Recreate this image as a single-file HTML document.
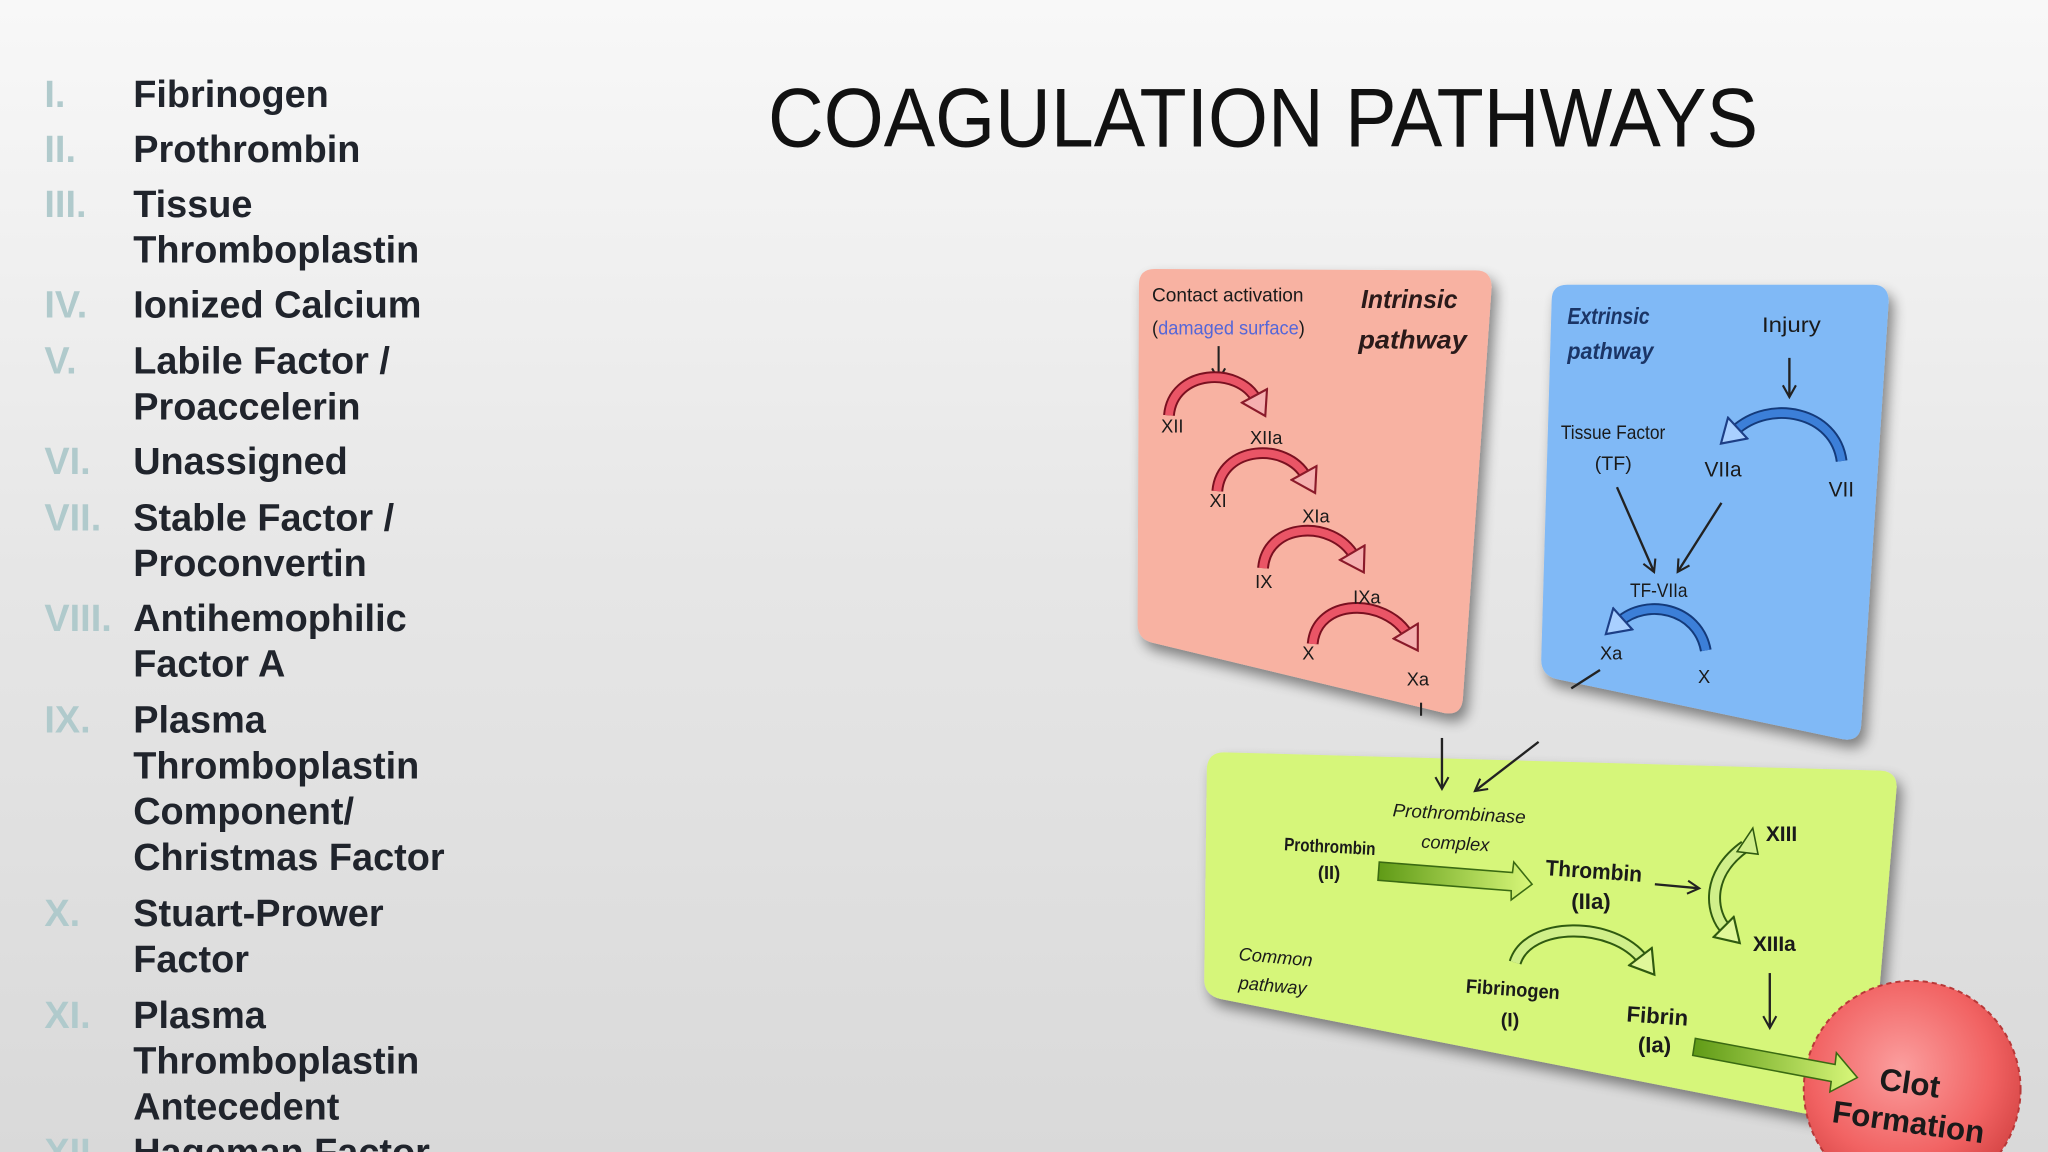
<!DOCTYPE html>
<html><head><meta charset="utf-8"><style>
html,body{margin:0;padding:0;width:2048px;height:1152px;overflow:hidden;background:#e8e8e8}
svg{display:block}
</style></head><body>
<svg width="2048" height="1152" viewBox="0 0 1568 882" xmlns="http://www.w3.org/2000/svg">
<defs>
<linearGradient id="bg" x1="0" y1="0" x2="0" y2="1">
<stop offset="0" stop-color="#f8f8f8"/><stop offset="0.5" stop-color="#e6e6e6"/><stop offset="1" stop-color="#d9d9d9"/></linearGradient>
<radialGradient id="clot" cx="0.45" cy="0.4" r="0.6">
<stop offset="0" stop-color="#fb9e9e"/><stop offset="0.7" stop-color="#f16262"/><stop offset="1" stop-color="#d84848"/></radialGradient>
<linearGradient id="garr" x1="0" y1="0" x2="1" y2="0">
<stop offset="0" stop-color="#5f9a16"/><stop offset="1" stop-color="#d8f77a"/></linearGradient>
<marker id="mr" markerUnits="userSpaceOnUse" markerWidth="24" markerHeight="24" refX="3" refY="0" viewBox="-2 -11 20 22" orient="auto"><path d="M0,-10 L16,0 L0,10 z" fill="#f5b0b0" stroke="#8a1a2a" stroke-width="1.5"/></marker>
<marker id="mb" markerUnits="userSpaceOnUse" markerWidth="24" markerHeight="24" refX="3" refY="0" viewBox="-2 -11 20 22" orient="auto"><path d="M0,-10 L16,0 L0,10 z" fill="#a9d0ff" stroke="#1d3f86" stroke-width="1.5"/></marker>
<marker id="mg" markerUnits="userSpaceOnUse" markerWidth="24" markerHeight="24" refX="3" refY="0" viewBox="-2 -11 20 22" orient="auto"><path d="M0,-10 L16,0 L0,10 z" fill="#e0f79a" stroke="#2f5a10" stroke-width="1.5"/></marker>
<marker id="ma" markerUnits="userSpaceOnUse" markerWidth="12" markerHeight="12" refX="8" refY="0" viewBox="0 -6 10 12" orient="auto"><path d="M0,-5 L9,0 L0,5" fill="none" stroke="#222" stroke-width="1.6"/></marker>
<filter id="sh" x="-10%" y="-10%" width="130%" height="130%"><feGaussianBlur in="SourceAlpha" stdDeviation="5"/><feOffset dx="4" dy="6"/><feComponentTransfer><feFuncA type="linear" slope="0.45"/></feComponentTransfer><feMerge><feMergeNode/><feMergeNode in="SourceGraphic"/></feMerge></filter>
</defs>
<rect width="1568" height="882" fill="url(#bg)"/>

<!-- left list -->
<g font-family="Liberation Sans, sans-serif" font-weight="bold" font-size="29">
<g fill="#b0cacc">
<text x="34" y="82">I.</text><text x="34" y="124">II.</text><text x="34" y="166">III.</text>
<text x="34" y="243">IV.</text><text x="34" y="286">V.</text><text x="34" y="363">VI.</text>
<text x="34" y="406">VII.</text><text x="34" y="483">VIII.</text><text x="34" y="561">IX.</text>
<text x="34" y="709">X.</text><text x="34" y="787">XI.</text><text x="34" y="892">XII.</text>
</g>
<g fill="#20242c">
<text x="102" y="82">Fibrinogen</text>
<text x="102" y="124">Prothrombin</text>
<text x="102" y="166">Tissue</text>
<text x="102" y="201">Thromboplastin</text>
<text x="102" y="243">Ionized Calcium</text>
<text x="102" y="286">Labile Factor /</text>
<text x="102" y="321">Proaccelerin</text>
<text x="102" y="363">Unassigned</text>
<text x="102" y="406">Stable Factor /</text>
<text x="102" y="441">Proconvertin</text>
<text x="102" y="483">Antihemophilic</text>
<text x="102" y="518">Factor A</text>
<text x="102" y="561">Plasma</text>
<text x="102" y="596">Thromboplastin</text>
<text x="102" y="631">Component/</text>
<text x="102" y="666">Christmas Factor</text>
<text x="102" y="709">Stuart-Prower</text>
<text x="102" y="744">Factor</text>
<text x="102" y="787">Plasma</text>
<text x="102" y="822">Thromboplastin</text>
<text x="102" y="857">Antecedent</text>
<text x="102" y="892">Hageman Factor</text>
</g></g>

<!-- title -->
<text x="588" y="112" font-family="Liberation Sans, sans-serif" font-size="64" fill="#111" textLength="758" lengthAdjust="spacingAndGlyphs">COAGULATION PATHWAYS</text>

<!-- boxes -->
<path d="M884,206 L1130,207 Q1142,207 1142,220 L1120,535 Q1119,548 1106,546 L882,492 Q871,489 871,478 L872,218 Q872,206 884,206 Z" fill="#f8b2a2" filter="url(#sh)"/>
<path d="M1200,218 L1434,218 Q1446,218 1446,231 L1425,555 Q1424,568 1411,566 L1192,520 Q1180,517 1180,505 L1188,230 Q1188,218 1200,218 Z" fill="#80b9f6" filter="url(#sh)"/>
<path d="M937,576 L1440,590 Q1453,591 1452,604 L1430,862 L935,765 Q922,762 922,750 L924,588 Q925,576 937,576 Z" fill="#d6f67a" filter="url(#sh)"/>

<g font-family="Liberation Sans, sans-serif" fill="#1a1a1a">
<!-- pink content -->
<text x="882" y="231" font-size="15" textLength="116" lengthAdjust="spacingAndGlyphs">Contact activation</text>
<text x="882" y="256" font-size="15" textLength="117" lengthAdjust="spacingAndGlyphs">(<tspan fill="#5566d8">damaged surface</tspan>)</text>
<text x="1042" y="236" font-size="20" font-weight="bold" font-style="italic" fill="#2a1a1a" textLength="74" lengthAdjust="spacingAndGlyphs">Intrinsic</text>
<text x="1040" y="267" font-size="20" font-weight="bold" font-style="italic" fill="#2a1a1a" textLength="83" lengthAdjust="spacingAndGlyphs">pathway</text>
<line x1="933" y1="265" x2="933" y2="290" stroke="#222" stroke-width="1.6" marker-end="url(#ma)"/>
<g fill="none">
<path d="M895,318 C898,283 948,280 962,306" stroke="#7a1020" stroke-width="9"/>
<path d="M895,318 C898,283 948,280 962,306" stroke="#ea5566" stroke-width="6" marker-end="url(#mr)"/>
<path d="M932,376 C935,341 985,338 1000,365" stroke="#7a1020" stroke-width="9"/>
<path d="M932,376 C935,341 985,338 1000,365" stroke="#ea5566" stroke-width="6" marker-end="url(#mr)"/>
<path d="M967,435 C970,400 1020,397 1037,426" stroke="#7a1020" stroke-width="9"/>
<path d="M967,435 C970,400 1020,397 1037,426" stroke="#ea5566" stroke-width="6" marker-end="url(#mr)"/>
<path d="M1005,493 C1008,458 1060,457 1078,486" stroke="#7a1020" stroke-width="9"/>
<path d="M1005,493 C1008,458 1060,457 1078,486" stroke="#ea5566" stroke-width="6" marker-end="url(#mr)"/>
</g>
<g font-size="14">
<text x="889" y="331">XII</text><text x="957" y="340">XIIa</text>
<text x="926" y="388">XI</text><text x="997" y="400">XIa</text>
<text x="961" y="450">IX</text><text x="1036" y="462">IXa</text>
<text x="997" y="505">X</text><text x="1077" y="525">Xa</text>
</g>
<line x1="1088" y1="538" x2="1088" y2="548" stroke="#222" stroke-width="1.6"/>

<!-- blue content -->
<text x="1200" y="248" font-size="18" font-weight="bold" font-style="italic" fill="#1b3566" textLength="63" lengthAdjust="spacingAndGlyphs">Extrinsic</text>
<text x="1200" y="275" font-size="18" font-weight="bold" font-style="italic" fill="#1b3566" textLength="66" lengthAdjust="spacingAndGlyphs">pathway</text>
<text x="1349" y="254" font-size="16" textLength="45" lengthAdjust="spacingAndGlyphs">Injury</text>
<line x1="1370" y1="274" x2="1370" y2="303" stroke="#222" stroke-width="1.8" marker-end="url(#ma)"/>
<path d="M1410,353 C1405,315 1355,305 1328,330" fill="none" stroke="#143a7a" stroke-width="9"/>
<path d="M1410,353 C1405,315 1355,305 1328,330" fill="none" stroke="#3c7fd8" stroke-width="6" marker-end="url(#mb)"/>
<text x="1195" y="336" font-size="15" textLength="80" lengthAdjust="spacingAndGlyphs">Tissue Factor</text>
<text x="1221" y="360" font-size="15">(TF)</text>
<text x="1305" y="365" font-size="16">VIIa</text>
<text x="1400" y="380" font-size="16">VII</text>
<line x1="1238" y1="373" x2="1266" y2="437" stroke="#222" stroke-width="1.8" marker-end="url(#ma)"/>
<line x1="1318" y1="385" x2="1285" y2="437" stroke="#222" stroke-width="1.8" marker-end="url(#ma)"/>
<text x="1248" y="457" font-size="15" textLength="44" lengthAdjust="spacingAndGlyphs">TF-VIIa</text>
<path d="M1306,498 C1300,465 1260,458 1240,476" fill="none" stroke="#143a7a" stroke-width="9"/>
<path d="M1306,498 C1300,465 1260,458 1240,476" fill="none" stroke="#3c7fd8" stroke-width="6" marker-end="url(#mb)"/>
<text x="1225" y="505" font-size="14">Xa</text>
<text x="1300" y="523" font-size="14">X</text>
<line x1="1203" y1="527" x2="1225" y2="513" stroke="#222" stroke-width="1.8"/>

<line x1="1104" y1="565" x2="1104" y2="603" stroke="#222" stroke-width="1.8" marker-end="url(#ma)"/>
<line x1="1178" y1="568" x2="1130" y2="605" stroke="#222" stroke-width="1.8" marker-end="url(#ma)"/>

<!-- green content -->
<text x="1066" y="625" font-size="14" font-style="italic" textLength="102" lengthAdjust="spacingAndGlyphs" transform="rotate(3 1066 625)">Prothrombinase</text>
<text x="1088" y="649" font-size="14" font-style="italic" transform="rotate(3 1088 649)">complex</text>
<text x="983" y="651" font-size="14" font-weight="bold" textLength="70" lengthAdjust="spacingAndGlyphs" transform="rotate(3 983 651)">Prothrombin</text>
<text x="1009" y="673" font-size="14" font-weight="bold">(II)</text>
<path d="M1056,660 L1158,668 L1159,660 L1173,677 L1157,689 L1157,682 L1055,674 Z" fill="url(#garr)" stroke="#3a6a12" stroke-width="1.2"/>
<text x="1183" y="670" font-size="17" font-weight="bold" textLength="74" lengthAdjust="spacingAndGlyphs" transform="rotate(4 1183 670)">Thrombin</text>
<text x="1203" y="696" font-size="17" font-weight="bold">(IIa)</text>
<line x1="1267" y1="677" x2="1300" y2="680" stroke="#222" stroke-width="1.8" marker-end="url(#ma)"/>
<path d="M1336,648 C1305,670 1310,700 1322,712" fill="none" stroke="#2f5a10" stroke-width="10"/>
<path d="M1336,648 C1305,670 1310,700 1322,712" fill="none" stroke="#d0ef8a" stroke-width="7" marker-end="url(#mg)"/>
<path d="M1330,652 L1342,634 L1346,654 Z" fill="#d0ef8a" stroke="#2f5a10" stroke-width="1.2"/>
<text x="1352" y="644" font-size="16" font-weight="bold">XIII</text>
<text x="1342" y="728" font-size="16" font-weight="bold">XIIIa</text>
<text x="948" y="735" font-size="14" font-style="italic" transform="rotate(5 948 735)">Common</text>
<text x="948" y="757" font-size="14" font-style="italic" transform="rotate(5 948 757)">pathway</text>
<path d="M1160,737 C1170,705 1235,705 1258,735" fill="none" stroke="#2f5a10" stroke-width="10"/>
<path d="M1160,737 C1170,705 1235,705 1258,735" fill="none" stroke="#d0ef8a" stroke-width="7" marker-end="url(#mg)"/>
<text x="1122" y="760" font-size="15" font-weight="bold" textLength="72" lengthAdjust="spacingAndGlyphs" transform="rotate(4 1122 760)">Fibrinogen</text>
<text x="1149" y="786" font-size="15" font-weight="bold">(I)</text>
<text x="1245" y="782" font-size="17" font-weight="bold" transform="rotate(4 1245 782)">Fibrin</text>
<text x="1254" y="806" font-size="17" font-weight="bold">(Ia)</text>
<line x1="1355" y1="745" x2="1355" y2="786" stroke="#222" stroke-width="1.8" marker-end="url(#ma)"/>

<circle cx="1464" cy="834" r="83" fill="url(#clot)" stroke="#b83838" stroke-width="1.5" stroke-dasharray="4 3"/>
<path d="M1298,795 L1405,815 L1406,806 L1422,825 L1401,836 L1402,828 L1296,808 Z" fill="url(#garr)" stroke="#3a6a12" stroke-width="1.2"/>
<text x="1438" y="834" font-size="24" font-weight="bold" transform="rotate(8 1438 834)">Clot</text>
<text x="1402" y="859" font-size="24" font-weight="bold" transform="rotate(8 1402 859)">Formation</text>
</g>
</svg>
</body></html>
